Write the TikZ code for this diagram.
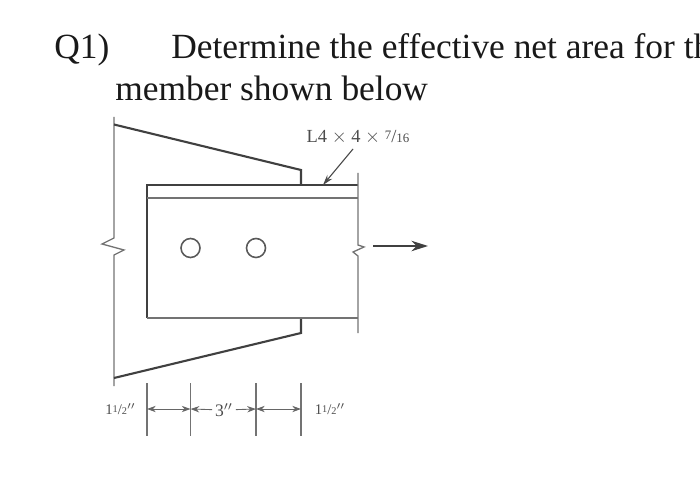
\documentclass[tikz,border=0pt]{standalone}
\usepackage{fontspec}
\setmainfont{Liberation Serif}
\usetikzlibrary{arrows.meta}
\newcommand{\frc}[2]{\raisebox{0.35ex}{\scalebox{0.7}{#1}}/\scalebox{0.7}{#2}}
\tikzset{
  heading/.style={anchor=base west,inner sep=0,font=\fontsize{20.15}{24}\selectfont,text=black!90},
  dimtext/.style={inner sep=0,font=\fontsize{8.4}{10}\selectfont,text=black!70},
  thinline/.style={draw=black!55,line width=0.75pt},
  heavyline/.style={draw=black!75,line width=1.2pt},
  dimline/.style={draw=black!60,line width=0.5pt,{Stealth[length=5pt,width=3.6pt]}-{Stealth[length=5pt,width=3.6pt]}},
  dimhalf/.style={draw=black!60,line width=0.5pt,-{Stealth[length=5pt,width=3.6pt]}},
  hole/.style={circle,draw=black!65,line width=0.9pt,minimum size=0.38cm,inner sep=0},
}
\begin{document}
\begin{tikzpicture}[x=0.02cm,y=-0.02cm]
      \useasboundingbox (0,0) rectangle (700,503);

      \node [heading] (qnum) at (54,58.5) {Q1)};
      \node [heading] (line1) at (171,58.5) {Determine the effective net area for th};
      \node [heading] (line2) at (115,101) {member shown below};

      % gusset plate
      \draw [thinline] (114,117) -- (114,238) -- (102,244) -- (124,250) -- (114,255) -- (114,386);
      \draw [heavyline] (114,124.5) -- (301,170) -- (301,185);
      \draw [heavyline] (301,318) -- (301,333) -- (114,378);

      % angle
      \draw [heavyline] (358,185) -- (147,185) -- (147,318);
      \draw [thinline] (147,318) -- (358,318);
      \draw [thinline] (147,198) -- (358,198);
      \draw [thinline] (358,173) -- (358,245) -- (364,247) -- (353,252) -- (358,256) -- (358,333);

      % holes
      \node [hole] (hole1) at (190.5,248) {};
      \node [hole] (hole2) at (256,248) {};

      % load arrow
      \coordinate (loadA) at (373,246);
      \coordinate (loadB) at (428,246);
      \draw [draw=black!75,line width=0.7pt,-{Stealth[length=9.5pt,width=6pt]}] (loadA) -- (loadB);

      % size label
      \node [dimtext,font=\fontsize{10.5}{12}\selectfont] (size) at (358,137) {L4 $\times$ 4 $\times$ \frc{7}{16}};
      \coordinate (sizeEnd) at (323,185);
      \coordinate (sizeStart) at (353,149);
      \draw [draw=black!70,line width=0.65pt,-{Stealth[length=6pt,width=3.6pt]}] (sizeStart) -- (sizeEnd);

      % dimensions
      \foreach \n/\x in {a/147,b/190.5,c/256,d/301}
      {
        \coordinate (\n top) at (\x,383);
        \coordinate (\n bot) at (\x,436);
        \coordinate (\n) at (\x,409);
        \draw [thinline] (\n top) -- (\n bot);
      }
      \draw [dimline] (a) -- (b);
      \draw [dimline] (c) -- (d);
      \node [dimtext,font=\fontsize{10}{12}\selectfont,inner xsep=1.5pt] (dimmid) at (224,410) {3$''$};
      \draw [dimhalf] (dimmid) -- (b);
      \draw [dimhalf] (dimmid) -- (c);
      \node [dimtext] (dimleft) at (120.5,409.5) {1\frc{1}{2}$''$};
      \node [dimtext] (dimright) at (330,409.5) {1\frc{1}{2}$''$};
\end{tikzpicture}
\end{document}
